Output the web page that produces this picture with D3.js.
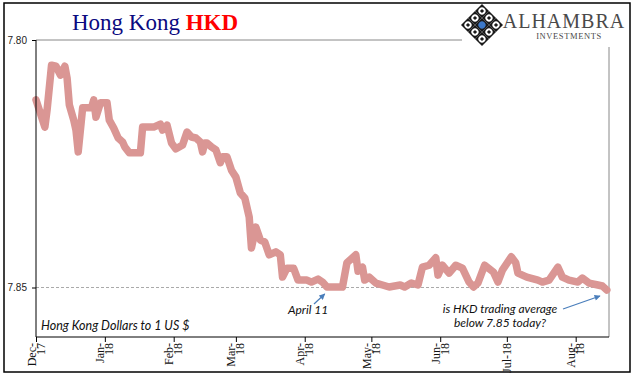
<!DOCTYPE html>
<html>
<head>
<meta charset="utf-8">
<script src="https://cdn.jsdelivr.net/npm/d3@7"></script>
<style>
  html, body { margin: 0; padding: 0; background: #fff; }
  svg { display: block; }
</style>
</head>
<body>
<svg id="chart" width="641" height="381"></svg>
<script>
// ---- data ----
const dates = [
  "2017-12-01","2017-12-05","2017-12-06","2017-12-08","2017-12-10","2017-12-12","2017-12-14","2017-12-15",
  "2017-12-16","2017-12-18","2017-12-19","2017-12-20","2017-12-22","2017-12-24","2017-12-26","2017-12-27",
  "2017-12-28","2017-12-30","2018-01-02","2018-01-03","2018-01-05","2018-01-07","2018-01-09","2018-01-10",
  "2018-01-12","2018-01-15","2018-01-17","2018-01-18","2018-01-23","2018-01-26","2018-01-27","2018-01-29",
  "2018-01-31","2018-02-02","2018-02-05","2018-02-07","2018-02-09","2018-02-11","2018-02-13","2018-02-14",
  "2018-02-15","2018-02-16","2018-02-18","2018-02-20","2018-02-22","2018-02-23","2018-02-25","2018-02-27",
  "2018-03-01","2018-03-03","2018-03-05","2018-03-07","2018-03-08","2018-03-10","2018-03-12","2018-03-14",
  "2018-03-16","2018-03-19","2018-03-21","2018-03-22","2018-03-24","2018-03-27","2018-03-29","2018-04-02",
  "2018-04-04","2018-04-07","2018-04-09","2018-04-11","2018-04-17","2018-04-18","2018-04-20","2018-04-24",
  "2018-04-25","2018-04-27","2018-04-28","2018-04-30","2018-05-03","2018-05-06","2018-05-09","2018-05-14",
  "2018-05-16","2018-05-19","2018-05-22","2018-05-24","2018-05-27","2018-05-30","2018-05-31","2018-06-02",
  "2018-06-05","2018-06-08","2018-06-11","2018-06-14","2018-06-16","2018-06-18","2018-06-21","2018-06-25",
  "2018-06-27","2018-06-29","2018-07-03","2018-07-05","2018-07-06","2018-07-10","2018-07-15","2018-07-17",
  "2018-07-20","2018-07-24","2018-07-26","2018-07-29","2018-08-02","2018-08-04","2018-08-07","2018-08-11",
  "2018-08-13","2018-08-15"
];
const hkdValues = [
  7.8121,7.8176,7.8141,7.8051,7.8053,7.8071,7.8053,7.8077,
  7.8131,7.8162,7.8182,7.8226,7.8137,7.8137,7.8137,7.8121,
  7.8156,7.8127,7.8127,7.8162,7.8178,7.8198,7.8206,7.8216,
  7.8228,7.8228,7.8228,7.8176,7.8176,7.8170,7.8182,7.8172,
  7.8208,7.8220,7.8212,7.8186,7.8196,7.8198,7.8206,7.8226,
  7.8208,7.8208,7.8216,7.8222,7.8248,7.8236,7.8236,7.8263,
  7.8277,7.8309,7.8319,7.8358,7.8420,7.8378,7.8404,7.8408,
  7.8434,7.8428,7.8434,7.8479,7.8461,7.8461,7.8485,7.8485,
  7.8489,7.8483,7.8489,7.8499,7.8499,7.8499,7.8450,7.8434,
  7.8467,7.8459,7.8485,7.8479,7.8491,7.8495,7.8499,7.8495,
  7.8499,7.8491,7.8495,7.8459,7.8455,7.8440,7.8475,7.8455,
  7.8471,7.8455,7.8461,7.8489,7.8499,7.8491,7.8455,7.8469,
  7.8489,7.8465,7.8438,7.8450,7.8471,7.8479,7.8485,7.8489,
  7.8485,7.8459,7.8479,7.8485,7.8489,7.8481,7.8491,7.8495,
  7.8497,7.8505
];
const xTickDates = ["2017-12-01","2018-01-01","2018-02-01","2018-03-01","2018-04-01","2018-05-01","2018-06-01","2018-07-01","2018-08-01"];
const xTickLabels = ["Dec-\n17","Jan-\n18","Feb-\n18","Mar-\n18","Apr-\n18","May-\n18","Jun-\n18","Jul-18","Aug-\n18"];
const yTicks = [7.80, 7.85];
const yTickLabels = ["7.80", "7.85"];
const xDomain = ["2017-12-01", "2018-08-16"];
const yDomain = [7.80, 7.86];

// ---- setup ----
const parse = d3.timeParse("%Y-%m-%d");
const series = dates.map((d, i) => ({ date: parse(d), value: hkdValues[i] }));
const svg = d3.select("#chart");
const L = 36, R = 609, T = 40, B = 337;

const x = d3.scaleTime().domain(xDomain.map(parse)).range([L, R]);
const y = d3.scaleLinear().domain(yDomain).range([T, B]);

// outer border
svg.append("rect").attr("x", 4).attr("y", 3).attr("width", 626).attr("height", 369)
  .attr("fill", "#fff").attr("stroke", "#000").attr("stroke-width", 1.5);

// gridlines
svg.append("line").attr("x1", L).attr("x2", R).attr("y1", y(7.80)).attr("y2", y(7.80))
  .attr("stroke", "#888").attr("stroke-width", 1);
svg.append("line").attr("x1", L).attr("x2", R).attr("y1", y(7.85)).attr("y2", y(7.85))
  .attr("stroke", "#aaa").attr("stroke-width", 1).attr("stroke-dasharray", "3,2");
// right border of plot
svg.append("line").attr("x1", R).attr("x2", R).attr("y1", T).attr("y2", B)
  .attr("stroke", "#888").attr("stroke-width", 1);

// line
const line = d3.line().x(d => x(d.date)).y(d => y(d.value));
svg.append("path").datum(series).attr("d", line)
  .attr("fill", "none").attr("stroke", "#da9694").attr("stroke-width", 7.5)
  .attr("stroke-linejoin", "round").attr("stroke-linecap", "round");

// y axis
const yAxis = d3.axisLeft(y).tickValues(yTicks).tickSize(4).tickFormat((d, i) => yTickLabels[i]);
const gy = svg.append("g").attr("transform", `translate(${L},0)`).call(yAxis);
gy.select(".domain").attr("stroke", "#000").attr("d", `M0,${T}V${B}`);
gy.selectAll(".tick line").attr("stroke", "#000");
gy.selectAll(".tick text").attr("x", -9).attr("font-family", "Liberation Sans, Arial, sans-serif")
  .attr("font-size", 10).attr("fill", "#222");

// x axis
const xAxis = d3.axisBottom(x).tickValues(xTickDates.map(parse)).tickSize(5).tickFormat("");
const gx = svg.append("g").attr("transform", `translate(0,${B})`).call(xAxis);
gx.select(".domain").attr("stroke", "#000").attr("d", `M${L},0H${R}`);
gx.selectAll(".tick line").attr("stroke", "#000");

xTickDates.forEach((d, i) => {
  const parts = xTickLabels[i].split("\n");
  const t = svg.append("text")
    .attr("transform", `translate(${x(parse(d))},343) rotate(-90)`)
    .attr("text-anchor", "end")
    .attr("font-family", "Liberation Serif, Times New Roman, serif")
    .attr("font-size", 12).attr("fill", "#111");
  if (parts.length === 1) {
    t.append("tspan").attr("x", 0).attr("y", 4).text(parts[0]);
  } else {
    t.append("tspan").attr("x", 0).attr("y", -0.5).text(parts[0]);
    t.append("tspan").attr("x", 0).attr("y", 8.5).text(parts[1]);
  }
});

// title
const title = svg.append("text").attr("x", 72).attr("y", 30)
  .attr("font-family", "Liberation Serif, Times New Roman, serif").attr("font-size", 23);
title.append("tspan").attr("fill", "#0a0a80").text("Hong Kong ");
title.append("tspan").attr("fill", "#ff0000").attr("font-weight", "bold").text("HKD");

// logo
const logo = svg.append("g");
logo.append("rect").attr("x", 462).attr("y", 4).attr("width", 166).attr("height", 43).attr("fill", "#fff");
const cx = 482, cy = 25, hs = 21;
const ic = logo.append("g").attr("transform", `translate(${cx},${cy}) rotate(45)`);
const s = hs / Math.SQRT2 * 2; // side of square
const cell = s / 3;
for (let i = 0; i < 3; i++) for (let j = 0; j < 3; j++) {
  const x0 = -s / 2 + i * cell, y0 = -s / 2 + j * cell;
  ic.append("rect").attr("x", x0).attr("y", y0).attr("width", cell).attr("height", cell)
    .attr("fill", "#1a1a1a");
  ic.append("circle").attr("cx", x0 + cell / 2).attr("cy", y0 + cell / 2).attr("r", cell * 0.36)
    .attr("fill", (i === 1 && j === 1) ? "#3c78c8" : "#fff");
  ic.append("rect").attr("x", x0 + cell * 0.35).attr("y", y0 + cell * 0.35)
    .attr("width", cell * 0.3).attr("height", cell * 0.3)
    .attr("fill", (i === 1 && j === 1) ? "#3c78c8" : "#1a1a1a");
}
logo.append("text").attr("x", 564).attr("y", 28).attr("text-anchor", "middle")
  .attr("font-family", "Liberation Serif, Times New Roman, serif").attr("font-size", 20)
  .attr("letter-spacing", 1).attr("fill", "#4a4a4a").text("ALHAMBRA");
logo.append("text").attr("x", 569).attr("y", 39).attr("text-anchor", "middle")
  .attr("font-family", "Liberation Serif, Times New Roman, serif").attr("font-size", 8.5)
  .attr("letter-spacing", 0.6).attr("fill", "#4a4a4a").text("INVESTMENTS");

// annotations
const annoFont = "Lato, Open Sans, sans-serif";
svg.append("text").attr("x", 41).attr("y", 330).attr("font-family", annoFont)
  .attr("font-style", "italic").attr("font-size", 12.5).attr("fill", "#111")
  .text("Hong Kong Dollars to 1 US $");
svg.append("text").attr("x", 308).attr("y", 314).attr("text-anchor", "middle").attr("font-family", annoFont)
  .attr("font-style", "italic").attr("font-size", 12).attr("fill", "#111").text("April 11");
svg.append("text").attr("x", 500).attr("y", 313).attr("text-anchor", "middle").attr("font-family", annoFont)
  .attr("font-style", "italic").attr("font-size", 12).attr("fill", "#111").text("is HKD trading average");
svg.append("text").attr("x", 500).attr("y", 327).attr("text-anchor", "middle").attr("font-family", annoFont)
  .attr("font-style", "italic").attr("font-size", 12).attr("fill", "#111").text("below 7.85 today?");

// arrows
const defs = svg.append("defs");
defs.append("marker").attr("id", "ah").attr("viewBox", "0 0 10 10").attr("refX", 9).attr("refY", 5)
  .attr("markerWidth", 7).attr("markerHeight", 6).attr("orient", "auto").attr("markerUnits", "userSpaceOnUse")
  .append("path").attr("d", "M0,0L10,5L0,10Z").attr("fill", "#4a7ebb");
svg.append("line").attr("x1", 314).attr("y1", 304).attr("x2", x(parse("2018-04-10"))).attr("y2", 294)
  .attr("stroke", "#4a7ebb").attr("stroke-width", 1.2).attr("marker-end", "url(#ah)");
svg.append("line").attr("x1", 563).attr("y1", 309).attr("x2", 600).attr("y2", 296)
  .attr("stroke", "#4a7ebb").attr("stroke-width", 1.2).attr("marker-end", "url(#ah)");
</script>
</body>
</html>
